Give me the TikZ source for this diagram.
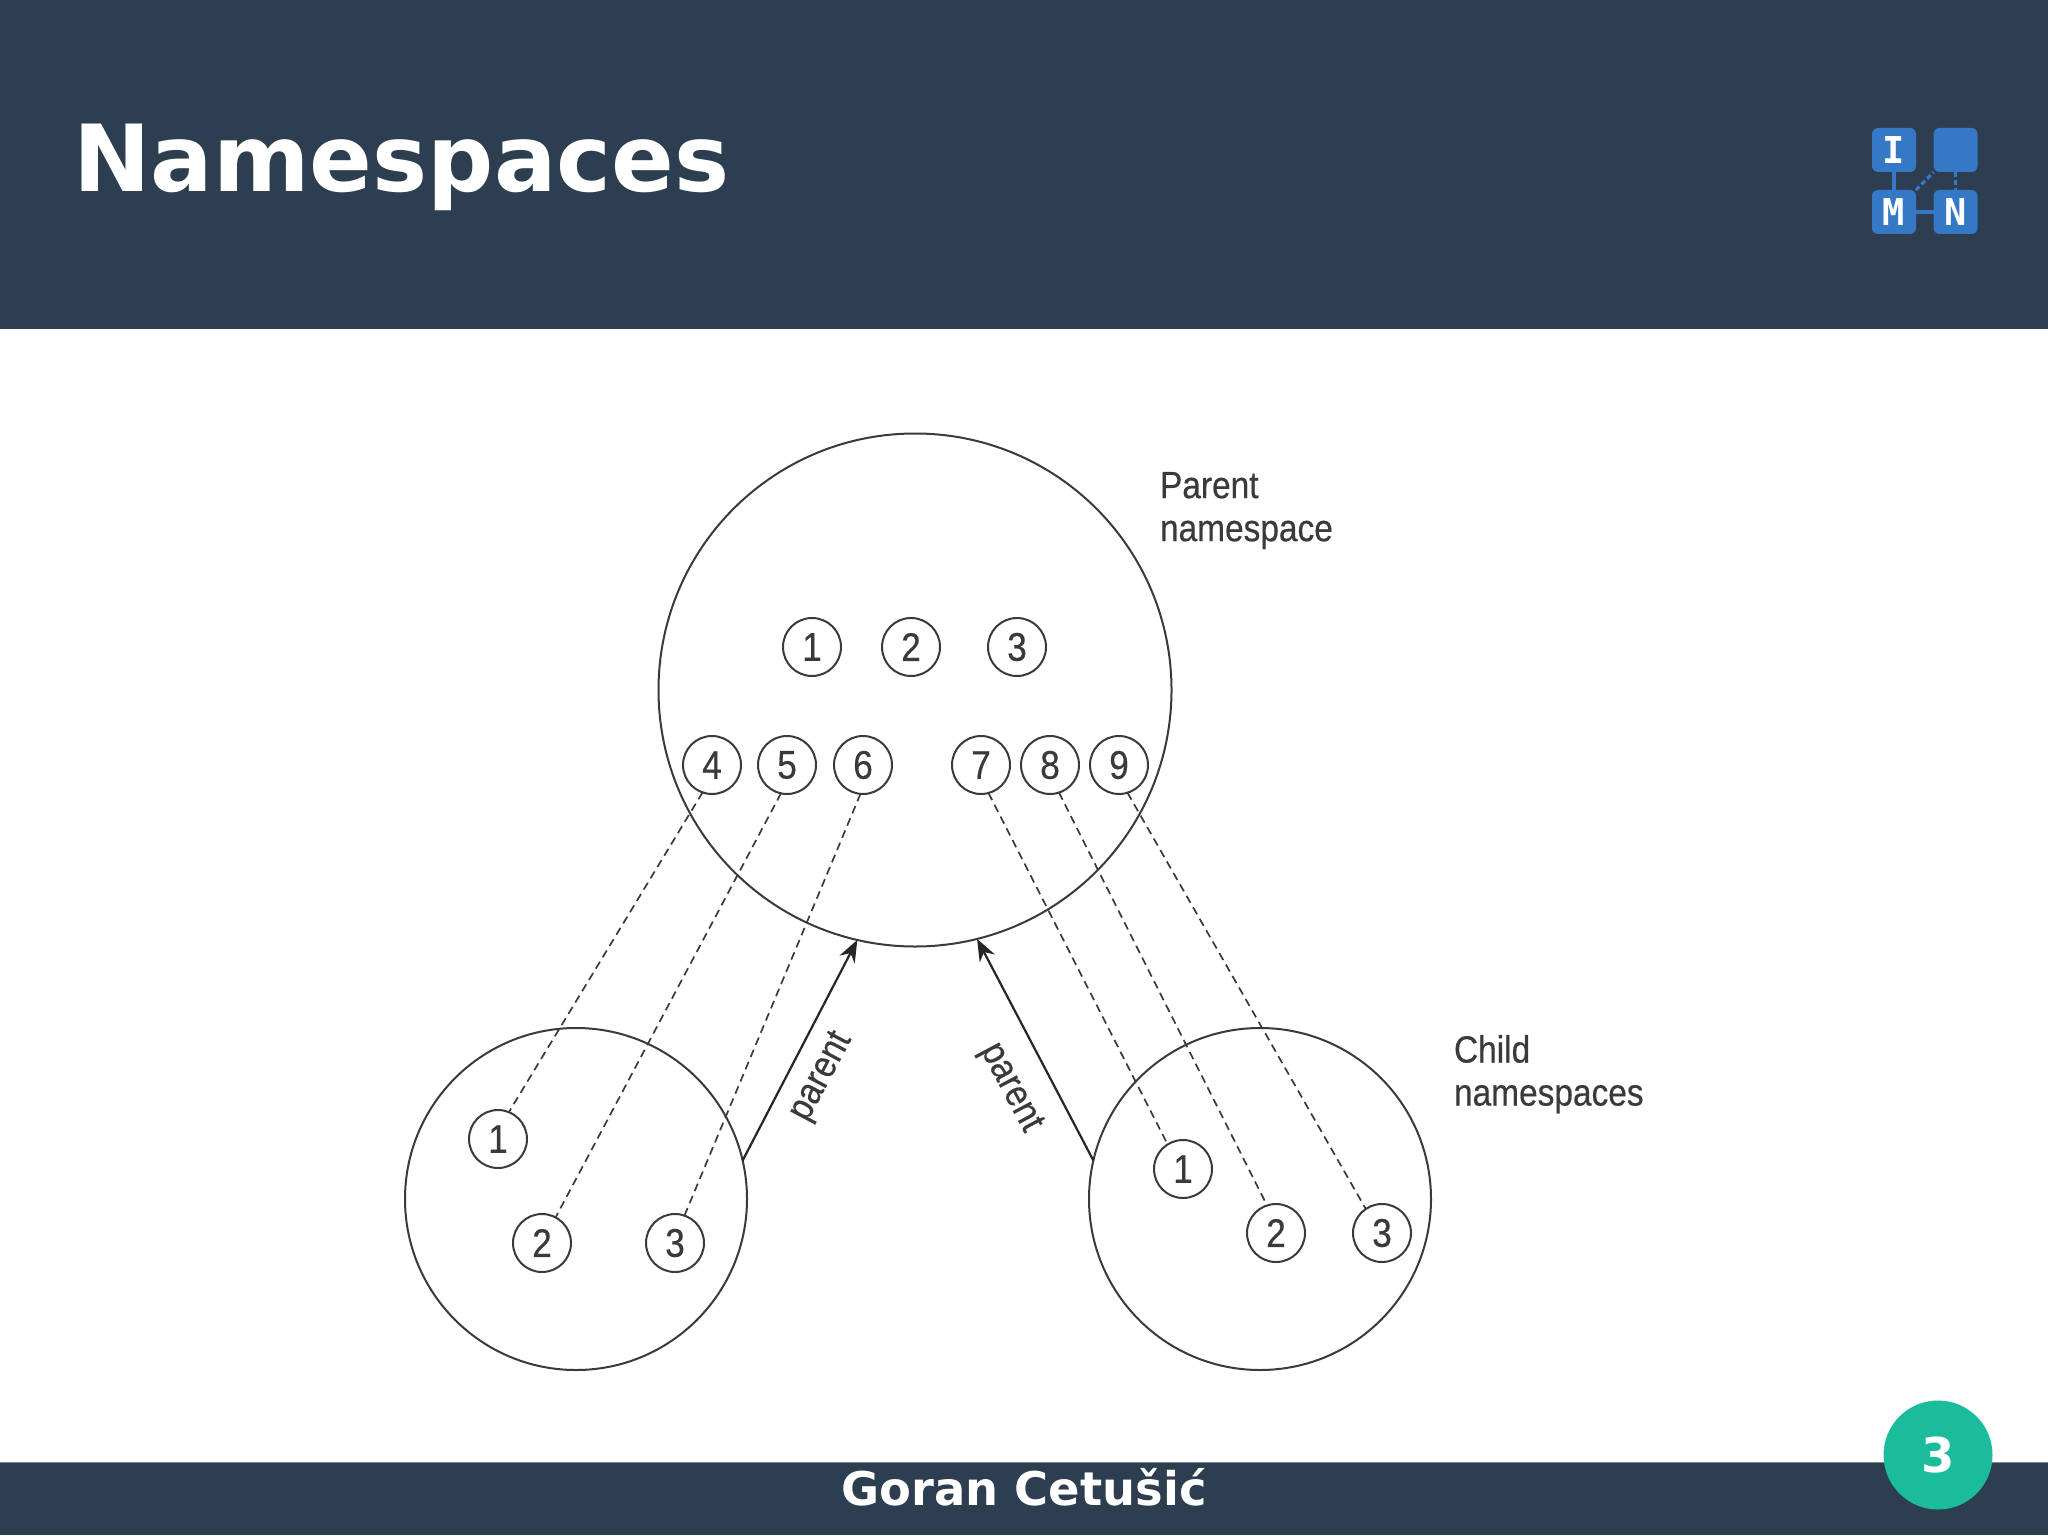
\documentclass[tikz,border=0pt]{standalone}
\usepackage{fontspec}
\setmainfont{DejaVu Sans}
\newfontfamily\narrowf[FakeStretch=0.88,FakeBold=0.4]{Liberation Sans}
\newfontfamily\monobf{DejaVu Sans Mono}
\usetikzlibrary{arrows.meta}
\definecolor{barc}{HTML}{2C3E50}
\definecolor{logoc}{HTML}{3579C6}
\definecolor{tealc}{HTML}{1ABC9C}
\definecolor{inkc}{HTML}{3A3A3A}
\tikzset{
  bar/.style={fill=barc,draw=none},
  bigc/.style={circle,draw=inkc,line width=1pt,minimum size=#1,inner sep=0pt,outer sep=0pt},
  smallc/.style={circle,draw=inkc,line width=1pt,minimum size=29pt,inner sep=0pt,outer sep=0pt,text=inkc,font=\narrowf\fontsize{20}{22}\selectfont},
  dashline/.style={draw=inkc,line width=0.85pt,dash pattern=on 4pt off 2.6pt},
  parentarrow/.style={draw=black!85,line width=1.1pt,-{Stealth[length=11pt,width=8.5pt]}},
  lbl/.style={text=inkc,inner sep=0pt,outer sep=0pt,align=left,anchor=north west,font=\narrowf\fontsize{19}{21.5}\selectfont},
  rotlbl/.style={text=inkc,inner sep=0pt,outer sep=0pt,font=\narrowf\fontsize{19}{21.5}\selectfont},
  logobox/.style={fill=logoc,rounded corners=3pt,minimum size=22pt,inner sep=0pt,outer sep=0pt,text=white,font=\monobf\bfseries\fontsize{18.5}{20}\selectfont},
  logolink/.style={draw=logoc,line width=2pt},
  logodash/.style={draw=logoc,line width=1.6pt,dash pattern=on 2.5pt off 1.5pt},
}
\begin{document}
\begin{tikzpicture}[x=0.5pt,y=-0.5pt]
\useasboundingbox (0,0) rectangle (2048,1535);
\fill[white] (0,0) rectangle (2048,1535);
\fill[bar] (0,0) rectangle (2048,329);
\fill[bar] (0,1462) rectangle (2048,1535);
\draw[color=barc!60,line width=0.5pt] (0,1462) -- (2048,1462);
\node[anchor=base west,inner sep=0pt,text=white,font=\bfseries\fontsize{46.3}{50}\selectfont] (title) at (73,192) {Namespaces};
\node[anchor=base,inner sep=0pt,text=white,font=\bfseries\fontsize{23.2}{26}\selectfont] (foot) at (1024,1505) {Goran Cetušić};
\node[circle,fill=tealc,inner sep=0pt,minimum size=54.5pt,text=white,font=\bfseries\fontsize{24}{26}\selectfont] (page) at (1938,1455) {3};

% logo
\node[logobox] (li) at (1894,150) {I};
\node[logobox] (lt) at (1955.5,150) {};
\node[logobox] (lm) at (1894,212) {M};
\node[logobox] (ln) at (1955.5,212) {N};
\draw[logolink] (li) -- (lm);
\draw[logolink] (lm) -- (ln);
\draw[logodash] (lm) -- (lt);
\draw[logodash] (lt) -- (ln);

% namespaces
\node[bigc=256.5pt] (pc) at (915,690) {};
\node[bigc=171pt] (lc) at (576,1199) {};
\node[bigc=171pt] (rc) at (1260,1199) {};

\node[smallc] (p1) at (812,647) {1};
\node[smallc] (p2) at (911,647) {2};
\node[smallc] (p3) at (1017,647) {3};
\node[smallc] (p4) at (712,765) {4};
\node[smallc] (p5) at (787,765) {5};
\node[smallc] (p6) at (863,765) {6};
\node[smallc] (p7) at (981,765) {7};
\node[smallc] (p8) at (1050,765) {8};
\node[smallc] (p9) at (1119,765) {9};

\node[smallc] (l1) at (498,1139) {1};
\node[smallc] (l2) at (542,1243) {2};
\node[smallc] (l3) at (675,1243) {3};
\node[smallc] (r1) at (1183,1169) {1};
\node[smallc] (r2) at (1276,1233) {2};
\node[smallc] (r3) at (1382,1233) {3};

\draw[dashline] (p4.251) -- (l1.68);
\draw[dashline] (p5.258) -- (l2.62);
\draw[dashline] (p6.265) -- (l3.71);
\draw[dashline] (p7.285) -- (r1.122);
\draw[dashline] (p8.288) -- (r2.108);
\draw[dashline] (p9.287) -- (r3.124);

\draw[parentarrow] (lc.13) -- (pc.257.4);
\draw[parentarrow] (rc.167) -- (pc.284.2);

\node[rotlbl,rotate=62] (pl) at (822,1077) {parent};
\node[rotlbl,rotate=-62] (pr) at (1010,1088) {parent};

\node[lbl] (tp) at (1160,472) {Parent\\namespace};
\node[lbl] (tc) at (1454,1035) {Child\\namespaces};
\end{tikzpicture}
\end{document}
